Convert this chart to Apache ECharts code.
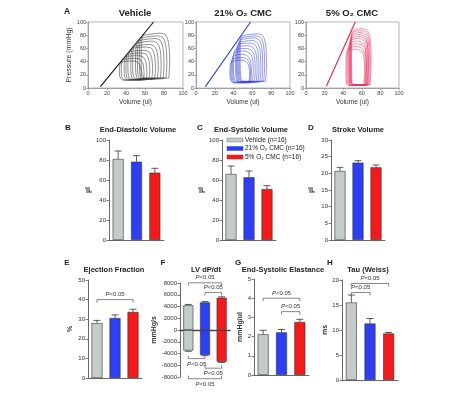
<!DOCTYPE html>
<html><head><meta charset="utf-8">
<script src="https://cdn.jsdelivr.net/npm/echarts@6/dist/echarts.min.js"></script>
<style>html,body{margin:0;padding:0;background:#fff}#c{width:474px;height:395px}</style>
</head><body><div id="c"></div>
<script>
// ---------- DATA ----------
const groups = ['Vehicle', '21% O₂ CMC', '5% O₂ CMC'];
const pvTicks = [0, 20, 40, 60, 80, 100];

// PV loops: [volume (ul), pressure (mmHg)]
const vehLoops = [
 [[85,15],[86,38],[85,66],[82,80],[76,83],[63,81],[57,78],[56,45],[57,19],[61,15],[85,15]],
 [[82,15],[83,36],[82,63],[79,76],[73,79],[60,77],[55,74],[54,43],[55,18],[58,15],[82,15]],
 [[79,14],[80,34],[79,60],[76,72],[70,75],[58,73],[53,70],[52,41],[53,17],[56,14],[79,14]],
 [[76,14],[77,32],[76,57],[73,68],[67,71],[55,69],[51,66],[50,39],[51,17],[54,14],[76,14]],
 [[73,14],[74,30],[73,53],[70,63],[64,66],[52,64],[48,62],[47,36],[48,17],[51,14],[73,14]],
 [[70,13],[71,28],[70,50],[67,60],[61,62],[50,61],[46,58],[45,34],[46,16],[49,13],[70,13]],
 [[67,13],[68,26],[67,46],[64,55],[58,57],[47,56],[43,53],[42,31],[43,16],[46,13],[67,13]],
 [[64,13],[65,24],[64,43],[61,51],[55,53],[45,52],[41,49],[40,29],[41,16],[44,13],[64,13]],
 [[61,12],[62,22],[61,39],[58,47],[52,49],[42,48],[39,45],[38,27],[39,15],[42,12],[61,12]],
 [[58,12],[59,21],[58,36],[55,43],[49,45],[40,44],[36,41],[35,25],[36,15],[39,12],[58,12]],
 [[55,12],[56,20],[55,33],[52,39],[47,41],[38,40],[34,37],[33,24],[34,15],[37,12],[55,12]]
];
const o21Loops = [
 [[74,10],[75,35],[74,66],[71,79],[65,82],[52,80],[48,77],[47,44],[48,13],[51,10],[74,10]],
 [[72,10],[73,34],[72,63],[69,76],[63,79],[51,77],[47,74],[46,42],[47,13],[50,10],[72,10]],
 [[70,10],[71,33],[70,61],[67,73],[61,76],[50,74],[46,71],[45,40],[46,13],[49,10],[70,10]],
 [[68,9],[69,31],[68,58],[65,69],[59,72],[48,70],[45,68],[44,38],[45,12],[48,9],[68,9]],
 [[66,9],[67,29],[66,54],[63,65],[57,68],[47,67],[44,64],[43,36],[44,12],[47,9],[66,9]],
 [[64,9],[65,28],[64,51],[61,61],[55,64],[46,63],[43,60],[42,34],[43,12],[46,9],[64,9]],
 [[62,9],[63,26],[62,48],[59,57],[53,60],[44,59],[41,56],[40,32],[41,12],[44,9],[62,9]],
 [[60,9],[61,25],[60,45],[57,53],[51,56],[43,55],[40,52],[39,30],[40,12],[43,9],[60,9]],
 [[58,8],[59,23],[58,41],[55,48],[50,51],[42,50],[39,47],[38,28],[39,11],[42,8],[58,8]],
 [[57,8],[58,21],[57,37],[54,44],[49,46],[41,45],[38,42],[37,25],[38,11],[41,8],[57,8]],
 [[56,8],[57,19],[56,34],[53,40],[48,42],[40,41],[37,38],[36,23],[37,11],[40,8],[56,8]]
];
const o5Loops = [
 [[69,5],[70,40],[69,75],[66,87],[60,90],[52,88],[49.5,85],[49,45],[49.5,8],[52,5],[69,5]],
 [[68,5],[69,38],[68,72],[65,84],[59,87],[51,85],[49,82],[48.5,43],[49,8],[51.5,5],[68,5]],
 [[67,5],[68,37],[67,70],[64,81],[58,84],[50.5,82],[48.5,79],[48,42],[48.5,8],[51,5],[67,5]],
 [[66,5],[67,36],[66,67],[63,78],[57,81],[50,79],[48,76],[47.5,40],[48,8],[50.5,5],[66,5]],
 [[66,4],[67,34],[66,65],[63,75],[57,78],[49.5,76],[47.5,73],[47,38],[47.5,7],[50,4],[66,4]],
 [[65,4],[66,33],[65,62],[62,72],[56,75],[49,73],[47,70],[46.5,37],[47,7],[49.5,4],[65,4]],
 [[64,4],[65,31],[64,59],[61,68],[55,71],[48.5,69],[46.5,66],[46,35],[46.5,7],[49,4],[64,4]],
 [[64,4],[65,30],[64,56],[61,64],[55,67],[47.5,65],[45.5,62],[45,33],[45.5,7],[48,4],[64,4]],
 [[63,4],[64,28],[63,52],[60,60],[54,63],[46.5,61],[44.5,58],[44,31],[44.5,7],[47,4],[63,4]],
 [[62,4],[63,26],[62,49],[59,56],[53,59],[45.5,57],[43.5,54],[43,29],[43.5,7],[46,4],[62,4]]
];
// ESPVR lines
const vehLine = [[13,2],[69,100]];
const o21Line = [[10,2],[58,100]];
const o5Line  = [[22,3],[53,100]];

// Bar panels: means and SEM
const edvMean = [81, 78.3, 67.3], edvErr = [8, 6, 4.4];
const esvMean = [66, 62.7, 51],   esvErr = [8, 6.3, 3.3];
const svMean  = [20.7, 23.2, 21.8], svErr = [1.1, 0.6, 0.7];
const efMean  = [28, 30.6, 33.7], efErr = [1.4, 1.6, 1.4];
const dpdtMax = [4200, 4700, 5500], dpdtMaxErr = [150, 130, 150];
const dpdtMin = [-3500, -4270, -5420], dpdtMinErr = [-120, -100, -120];
const eesMean = [2.12, 2.22, 2.76], eesErr = [0.21, 0.15, 0.14];
const tauMean = [15.5, 11.3, 9.3], tauErr = [1.5, 1.0, 0.2];

// significance brackets: [from group, to group, level, direction]
const efSig   = [[0, 2, 40, 1]];
const dpdtSig = [[0, 2, 8030, 1], [1, 2, 6370, 1], [0, 1, -4870, -1], [1, 2, -6500, -1], [0, 2, -8290, -1]];
const eesSig  = [[0, 2, 4.0, 1], [1, 2, 3.3, 1]];
const tauSig  = [[0, 2, 19.3, 1], [0, 1, 17.5, 1]];

// ---------- STYLE ----------
const FONT = '"Liberation Sans", Arial, Helvetica, sans-serif';
const barColors = ['#c5ccc8', '#2e3ff2', '#f21a1a'];
const loopColors = ['#333333', '#3b46d6', '#e8325f'];
const lineColors = ['#111111', '#3340d0', '#e0204a'];

const grids = [
  {left: 88, top: 22, width: 95, height: 66},   // A1
  {left: 196, top: 22, width: 94, height: 66},  // A2
  {left: 306, top: 22, width: 93, height: 66},  // A3
  {left: 109, top: 140, width: 55, height: 100},// B
  {left: 222, top: 140, width: 54, height: 100},// C
  {left: 331, top: 140, width: 54, height: 100},// D
  {left: 88, top: 280, width: 54, height: 98},  // E
  {left: 180, top: 283, width: 50, height: 94}, // F
  {left: 254, top: 279, width: 55, height: 96}, // G
  {left: 342, top: 280, width: 56, height: 100} // H
];
grids.forEach((g, i) => {
  g.containLabel = false;
  if (i < 3) { g.show = true; g.borderColor = '#9a9a9a'; g.borderWidth = 0.7; g.backgroundColor = 'transparent'; }
});

const xAxes = [], yAxes = [], series = [];
const plainNum = v => String(v);

function pvAxes(i) {
  const lab = {fontSize: 5.5, color: '#444', margin: 2, fontFamily: FONT, formatter: plainNum};
  xAxes.push({gridIndex: i, type: 'value', min: pvTicks[0], max: pvTicks[pvTicks.length - 1], interval: 20,
    axisLine: {show: true, lineStyle: {color: '#888', width: 0.7}},
    axisTick: {show: true, length: 2, lineStyle: {color: '#888', width: 0.6}},
    axisLabel: lab, splitLine: {show: false},
    name: 'Volume (ul)', nameLocation: 'middle', nameGap: 11,
    nameTextStyle: {fontSize: 6.5, color: '#333', fontFamily: FONT}});
  yAxes.push({gridIndex: i, type: 'value', min: 0, max: 100, interval: 20,
    axisLine: {show: true, lineStyle: {color: '#888', width: 0.7}},
    axisTick: {show: true, length: 2, lineStyle: {color: '#888', width: 0.6}},
    axisLabel: lab, splitLine: {show: false},
    name: i === 0 ? 'Pressure (mmHg)' : '', nameLocation: 'middle', nameGap: 14,
    nameTextStyle: {fontSize: 7, color: '#333', fontFamily: FONT}});
}
function pvSeries(i, loops, line, k) {
  loops.forEach(lp => series.push({type: 'line', xAxisIndex: i, yAxisIndex: i, data: lp, smooth: 0.3,
    symbol: 'none', silent: true, lineStyle: {color: loopColors[k], width: 0.6, opacity: 0.9}}));
  series.push({type: 'line', xAxisIndex: i, yAxisIndex: i, data: line, symbol: 'none', silent: true,
    lineStyle: {color: lineColors[k], width: 1.1}, z: 5});
}
pvAxes(0); pvAxes(1); pvAxes(2);
pvSeries(0, vehLoops, vehLine, 0);
pvSeries(1, o21Loops, o21Line, 1);
pvSeries(2, o5Loops, o5Line, 2);

function barAxes(i, min, max, interval, name, nameGap) {
  xAxes.push({gridIndex: i, type: 'category', data: groups,
    axisLine: {show: true, onZero: true, lineStyle: {color: '#444', width: i === 7 ? 1.3 : 0.8}},
    axisTick: {show: false}, axisLabel: {show: false}, splitLine: {show: false}});
  yAxes.push({gridIndex: i, type: 'value', min: min, max: max, interval: interval,
    axisLine: {show: true, onZero: false, lineStyle: {color: '#444', width: 0.8}},
    axisTick: {show: true, length: 2.5, lineStyle: {color: '#444', width: 0.7}},
    axisLabel: {fontSize: 6, color: '#333', margin: 3, fontFamily: FONT, formatter: plainNum},
    splitLine: {show: false},
    name: name, nameLocation: 'middle', nameGap: nameGap,
    nameTextStyle: {fontSize: 7, fontWeight: 'bold', color: '#333', fontFamily: FONT}});
}
function errRender(params, api) {
  const x = api.value(0), y = api.value(1), e = api.value(2);
  const p0 = api.coord([x, y]), p1 = api.coord([x, y + e]);
  const st = {stroke: '#333', lineWidth: 0.8};
  return {type: 'group', children: [
    {type: 'line', shape: {x1: p0[0], y1: p0[1], x2: p1[0], y2: p1[1]}, style: st},
    {type: 'line', shape: {x1: p1[0] - 3.5, y1: p1[1], x2: p1[0] + 3.5, y2: p1[1]}, style: st}
  ]};
}
function sigRender(params, api) {
  const a = api.coord([api.value(0), api.value(2)]);
  const b = api.coord([api.value(1), api.value(2)]);
  const dir = api.value(3), t = 3 * dir;
  return {type: 'group', children: [
    {type: 'polyline', shape: {points: [[a[0], a[1] + t], [a[0], a[1]], [b[0], b[1]], [b[0], b[1] + t]]},
      style: {stroke: '#555', fill: null, lineWidth: 0.7}},
    {type: 'text', x: (a[0] + b[0]) / 2, y: a[1] - (dir > 0 ? 5 : -5.5),
      style: {text: '{i|P}<0.05', fill: '#333', font: '6px ' + FONT, align: 'center', verticalAlign: 'middle',
        rich: {i: {fontStyle: 'italic', fontSize: 6, fill: '#333', fontFamily: FONT}}}}
  ]};
}
function barSeries(i, mean, err, width) {
  series.push({type: 'bar', xAxisIndex: i, yAxisIndex: i, barWidth: width || 11, barGap: '-100%', silent: true,
    data: mean.map((v, k) => ({value: v, itemStyle: {color: barColors[k]}})),
    itemStyle: {borderColor: '#333', borderWidth: 0.6}});
  series.push({type: 'custom', xAxisIndex: i, yAxisIndex: i, silent: true, z: 3,
    data: mean.map((v, k) => [k, v, err[k]]), renderItem: errRender});
}
function sigSeries(i, sig) {
  series.push({type: 'custom', xAxisIndex: i, yAxisIndex: i, silent: true, z: 4, clip: false,
    encode: {x: 0, y: 2}, data: sig, renderItem: sigRender});
}

barAxes(3, 0, 100, 20, 'µl', 17); barSeries(3, edvMean, edvErr);
barAxes(4, 0, 100, 20, 'µl', 17); barSeries(4, esvMean, esvErr);
barAxes(5, 0, 30, 5, 'µl', 16);   barSeries(5, svMean, svErr);
barAxes(6, 0, 50, 10, '%', 14);   barSeries(6, efMean, efErr); sigSeries(6, efSig);
barAxes(7, -8000, 8000, 2000, 'mmHg/s', 9);
barSeries(7, dpdtMax, dpdtMaxErr, 10); barSeries(7, dpdtMin, dpdtMinErr, 10); sigSeries(7, dpdtSig);
barAxes(8, 0, 5, 1, 'mmHg/ul', 8);  barSeries(8, eesMean, eesErr); sigSeries(8, eesSig);
barAxes(9, 0, 20, 5, 'ms', 11);     barSeries(9, tauMean, tauErr); sigSeries(9, tauSig);

// ---------- TEXT (letters, titles, legend) ----------
function txt(x, y, text, size, bold, align) {
  return {type: 'text', x: x, y: y, silent: true,
    style: {text: text, fill: '#222', font: (bold ? 'bold ' : '') + size + 'px ' + FONT,
      align: align || 'center', verticalAlign: 'middle', textAlign: align || 'center', textVerticalAlign: 'middle'}};
}
const graphic = [
  txt(67, 12, 'A', 8.5, true), txt(135, 13, groups[0], 9.5, true), txt(243, 13, groups[1], 9.5, true), txt(352, 13, groups[2], 9.5, true),
  txt(68, 128, 'B', 8, true), txt(138, 130, 'End-Diastolic Volume', 7.5, true),
  txt(200, 128, 'C', 8, true), txt(251, 130, 'End-Systolic Volume', 7.5, true),
  txt(311, 128, 'D', 8, true), txt(358, 130, 'Stroke Volume', 7.5, true),
  txt(67, 263, 'E', 8, true), txt(114, 270, 'Ejection Fraction', 7.5, true),
  txt(163, 263, 'F', 8, true), txt(206, 270, 'LV dP/dt', 7.5, true),
  txt(238, 263, 'G', 8, true), txt(283, 270, 'End-Systolic Elastance', 7.5, true),
  txt(330, 263, 'H', 8, true), txt(368, 270, 'Tau (Weiss)', 7.5, true)
];
const legendLabels = ['Vehicle (n=16)', '21% O₂ CMC (n=16)', '5% O₂ CMC (n=16)'];
legendLabels.forEach((l, k) => {
  const y = 140 + k * 8.5;
  graphic.push({type: 'rect', silent: true, shape: {x: 227, y: y - 2, width: 16, height: 4},
    style: {fill: barColors[k], stroke: k === 0 ? '#777' : barColors[k], lineWidth: 0.5}});
  graphic.push(txt(245, y, l, 6.5, false, 'left'));
});

const chart = echarts.init(document.getElementById('c'), null, {renderer: 'canvas'});
chart.setOption({
  animation: false,
  backgroundColor: '#ffffff',
  textStyle: {fontFamily: FONT},
  grid: grids, xAxis: xAxes, yAxis: yAxes, series: series, graphic: graphic
});
</script></body></html>
